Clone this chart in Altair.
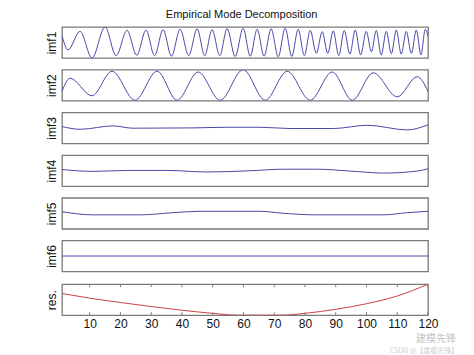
import altair as alt
import pandas as pd

TITLE = "Empirical Mode Decomposition"
LABELS = ["imf1", "imf2", "imf3", "imf4", "imf5", "imf6", "res."]
X_TICKS = [10, 20, 30, 40, 50, 60, 70, 80, 90, 100, 110, 120]

T_IMF1 = [1.0, 2.95, 6.86, 10.76, 14.99, 18.6, 22.15, 25.3, 28.33, 31.1, 33.87, 36.6,
          39.40, 42.2, 44.93, 47.4, 49.81, 52.3, 54.69, 57.3, 59.90, 62.2, 64.46, 66.7,
          69.01, 71.3, 73.57, 75.7, 77.80, 79.8, 81.70, 83.7, 85.61, 87.4, 89.19, 91.0,
          92.77, 94.6, 96.35, 98.1, 99.93, 101.6, 103.18, 104.8, 106.44, 108.1, 109.69,
          111.3, 112.94, 114.6, 116.20, 117.7, 119.12, 120.0]
V_IMF1 = [0.45,
          -0.48, 0.72, -1.0, 1.0, -0.85, 0.78, -0.82, 0.8, -0.85, 0.82,
          -0.88, 0.85, -0.85, 0.88, -0.85, 0.82, -0.85, 0.9, -0.9, 0.92,
          -0.88, 0.85, -0.88, 0.88, -0.92, 0.92, -0.9, 0.85, -0.85, 0.78,
          -0.7, 0.7, -0.7, 0.75, -0.85, 0.78, -0.75, 0.8, -0.8, 0.72,
          -0.6, 0.78, -0.8, 0.72, -0.72, 0.8, -0.75, 0.72, -0.7, 0.8,
          -0.8, 0.85,
          0.4]

T_IMF2 = [1.0, 3.6, 10.76, 17.27, 24.75, 31.91, 38.42, 45.26, 52.42, 59.90, 67.06,
          74.22, 81.70, 88.86, 95.37, 102.2, 110.0, 116.5, 120.0]
V_IMF2 = [-0.4, 0.45, -0.68, 0.9, -0.97, 0.9, -0.97, 0.85, -0.97, 1.0, -0.97,
          0.9, -0.97, 0.85, -0.97, 0.8, -0.75, 0.55, -0.4]

T_IMF3 = [1.0, 6.9, 17.6, 24.1, 43.6, 54.7, 65.4, 75.2, 89.2, 100.3, 113.3, 120.0]
V_IMF3 = [0.09, -0.09, 0.13, -0.02, 0.0, 0.04, 0.04, -0.04, -0.04, 0.17, -0.13, 0.2]

T_IMF4 = [1.0, 11.1, 22.2, 35.2, 48.2, 62.2, 72.9, 84.0, 94.7, 105.5, 116.5, 120.0]
V_IMF4 = [0.07, -0.05, 0.01, 0.01, -0.09, -0.01, 0.09, 0.09, -0.03, -0.16, -0.03, 0.12]

T_IMF5 = [1.0, 11.1, 26.4, 37.1, 45.9, 65.4, 72.9, 84.0, 105.5, 113.3, 120.0]
V_IMF5 = [0.1, -0.1, -0.1, 0.04, 0.13, 0.13, 0.0, -0.1, -0.1, 0.04, 0.13]

T_IMF6 = [1.0, 120.0]
V_IMF6 = [0.0, 0.0]

T_RES = [1, 10, 20, 30, 40, 50, 58, 65, 72, 80, 90, 100, 110, 120]
V_RES = [0.70, 0.55, 0.41, 0.28, 0.16, 0.06, 0.0, 0.0, 0.0, 0.06, 0.19, 0.37, 0.62, 1.0]

WATERMARK1 = "建模先锋"
WATERMARK2 = "CSDN @【建模先锋】"

W, H = 366, 31
FONT = "Liberation Sans"
BLUE = "#4848aa"
RED = "#cc4040"
FRAME = "#7a7a7a"

xscale = alt.Scale(domain=[1, 120], nice=False, zero=False)


def yaxis(label):
    return alt.Axis(title=label, labels=False, ticks=False, domain=False, grid=False,
                    titleFontSize=12, titleFont=FONT, titleFontWeight="normal",
                    titleColor="#111", titlePadding=4)


def imf_panel(ts, vs, label):
    df = pd.DataFrame({"t": ts, "v": vs})
    return alt.Chart(df).mark_line(color=BLUE, strokeWidth=1, interpolate="monotone", clip=True).encode(
        x=alt.X("t:Q", scale=xscale, axis=None),
        y=alt.Y("v:Q", scale=alt.Scale(domain=[-1, 1], nice=False, zero=False), axis=yaxis(label)),
    ).properties(width=W, height=H)


panels = [
    imf_panel(T_IMF1, V_IMF1, LABELS[0]),
    imf_panel(T_IMF2, V_IMF2, LABELS[1]),
    imf_panel(T_IMF3, V_IMF3, LABELS[2]),
    imf_panel(T_IMF4, V_IMF4, LABELS[3]),
    imf_panel(T_IMF5, V_IMF5, LABELS[4]),
    imf_panel(T_IMF6, V_IMF6, LABELS[5]),
]

xaxis = alt.Axis(values=X_TICKS, title=None, grid=False, domain=False, ticks=False,
                 labelFontSize=12, labelFont=FONT, labelColor="#111", labelPadding=3,
                 labelFlush=False)
xenc = alt.X("t:Q", scale=xscale, axis=xaxis)

res_df = pd.DataFrame({"t": T_RES, "v": V_RES})
res_line = alt.Chart(res_df).mark_line(color=RED, strokeWidth=1, interpolate="monotone", clip=True).encode(
    x=xenc,
    y=alt.Y("v:Q", scale=alt.Scale(domain=[0, 1], nice=False, zero=False), axis=yaxis(LABELS[6])),
)
tick_df = pd.DataFrame({"t": X_TICKS})
ticks_top = alt.Chart(tick_df).mark_rule(color=FRAME, strokeWidth=1).encode(
    x=xenc, y=alt.value(0), y2=alt.value(3))
ticks_bot = alt.Chart(tick_df).mark_rule(color=FRAME, strokeWidth=1).encode(
    x=xenc, y=alt.value(H - 3), y2=alt.value(H))
wm1 = alt.Chart(pd.DataFrame({"s": [WATERMARK1]})).mark_text(
    font="Noto Sans CJK SC", fontSize=10, color="#c4c4c4", align="center", baseline="middle").encode(
    text="s:N", x=alt.value(374), y=alt.value(55))
wm2 = alt.Chart(pd.DataFrame({"s": [WATERMARK2]})).mark_text(
    font="Noto Sans CJK SC", fontSize=7, color="#cfcfcf", align="center", baseline="middle").encode(
    text="s:N", x=alt.value(362), y=alt.value(67))

res_panel = alt.layer(res_line, ticks_top, ticks_bot, wm1, wm2).properties(width=W, height=H)

chart = alt.vconcat(*panels, res_panel, spacing=9.7).properties(
    title=alt.TitleParams(TITLE, fontSize=11, font=FONT, fontWeight="normal", color="#111",
                          anchor="middle", offset=6, dx=-10),
    padding={"left": 44, "top": 9, "right": 5, "bottom": 1},
).configure_view(stroke=FRAME, strokeWidth=1.3).configure_axis(labelFont=FONT, titleFont=FONT)

chart.save("out.html", embed_options={"renderer": "svg", "actions": False})
